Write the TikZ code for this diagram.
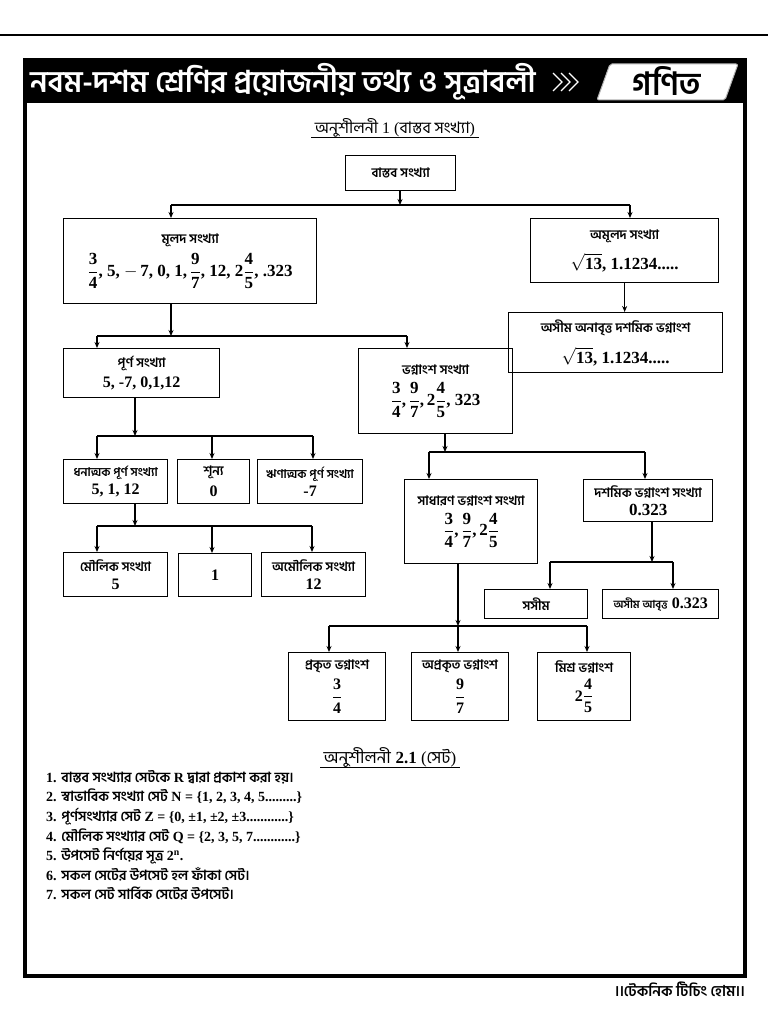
\documentclass[tikz,border=0pt]{standalone}
\usepackage{amsmath}
\usepackage{fontspec}
\setmainfont{Liberation Serif}
\newfontfamily\bn[Script=Bengali]{Hind Siliguri}
\newcommand\B[1]{{\bn #1}}
\newcommand\T[2][13]{{\bn\bfseries\fontsize{#1}{#1}\selectfont #2}}
\newcommand\fr[2]{$\dfrac{\textbf{#1}}{\textbf{#2}}$}
\usetikzlibrary{arrows.meta}
\begin{document}
\begin{tikzpicture}[x=1pt,y=-1pt,
	box/.style 2 args={draw,line width=1.3pt,anchor=north west,minimum width=#1pt,minimum height=#2pt,align=center,inner sep=1pt,font=\bfseries\fontsize{16}{17}\selectfont},
	big/.style={font=\bfseries\fontsize{17}{18}\selectfont},
	arr/.style={line width=1.1pt,-{Stealth[length=6pt,width=5pt]}},
	bar/.style={line width=1.1pt}]
	\useasboundingbox (0,0) rectangle (768,1024);
	% page rule, frame and header band
	\draw[line width=1.6pt] (0,35) -- (768,35);
	\fill (25,60) rectangle (745,103);
	\draw[line width=3.5pt] (25,60) rectangle (745,976);
	\node[white,anchor=west,inner sep=0pt,font=\bn\bfseries\fontsize{30}{32}\selectfont] (title) at (30,82) {নবম-দশম শ্রেণির প্রয়োজনীয় তথ্য ও সূত্রাবলী};
	\foreach \c in {0,8,16}
		\draw[white,line width=1.2pt] (553+\c,73) -- ++(9,9) -- ++(-9,9);
	\draw[fill=white,draw=gray!60,line width=1pt,rounded corners=2pt] (597,100) -- (610,64) -- (738,64) -- (725,100) -- cycle;
	\node[font=\bn\bfseries\fontsize{32}{34}\selectfont] (subj) at (667,81) {গণিত};
	% section 1
	\node[font=\fontsize{16}{18}\selectfont] (sec1) at (395,128) {\B{অনুশীলনী} 1 (\B{বাস্তব সংখ্যা})};
	\draw[line width=.8pt] ([yshift=3pt]sec1.south west) -- ([yshift=3pt]sec1.south east);
	\node[box={110}{35}] (real) at (345,155) {\T{বাস্তব সংখ্যা}};
	\node[box={253}{85},big] (rat) at (63,218) {\T{মূলদ সংখ্যা}\\[6pt] \fr34, 5, $-$\,7, 0, 1,\,\fr97, 12, 2\fr45, .323};
	\node[box={188}{64},big] (irr) at (530,218) {\T{অমূলদ সংখ্যা}\\[10pt] $\sqrt{\textbf{13}}$, 1.1234.....};
	\node[box={214}{60},big] (inf) at (508,312) {\T{অসীম অনাবৃত্ত দশমিক ভগ্নাংশ}\\[11pt] $\sqrt{\textbf{13}}$, 1.1234.....};
	\node[box={156}{49}] (whole) at (63,348) {\T{পূর্ণ সংখ্যা}\\[3pt] 5, -7, 0,1,12};
	\node[box={154}{85},big] (frac) at (358,348) {\T{ভগ্নাংশ সংখ্যা}\\[6pt] \fr34,\,\fr97,\,2\fr45, 323};
	\node[box={104}{44}] (pos) at (63,459) {\T[12]{ধনাত্মক পূর্ণ সংখ্যা}\\[1pt] 5, 1, 12};
	\node[box={72}{44}] (zero) at (177,459) {\T{শূন্য}\\[4pt] 0};
	\node[box={105}{44}] (neg) at (257,459) {\T[12]{ঋণাত্মক পূর্ণ সংখ্যা}\\[1pt] -7};
	\node[box={104}{44}] (prime) at (63,552) {\T{মৌলিক সংখ্যা}\\[1pt] 5};
	\node[box={73}{43}] (one) at (178,553) {1};
	\node[box={104}{44}] (comp) at (261,552) {\T{অমৌলিক সংখ্যা}\\[1pt] 12};
	\node[box={133}{84},big] (comm) at (404,479) {\T{সাধারণ ভগ্নাংশ সংখ্যা}\\[6pt] \fr34,\,\fr97,\,2\fr45};
	\node[box={129}{42},big] (dec) at (583,479) {\T{দশমিক ভগ্নাংশ সংখ্যা}\\ 0.323};
	\node[box={103}{29}] (fin) at (484,589) {\T{সসীম}};
	\node[box={116}{29}] (rec) at (602,589) {\T[11]{অসীম আবৃত্ত} 0.323};
	\node[box={97}{68}] (prop) at (288,652) {\T{প্রকৃত ভগ্নাংশ}\\[5pt] \fr34};
	\node[box={97}{68}] (impr) at (411,652) {\T{অপ্রকৃত ভগ্নাংশ}\\[5pt] \fr97};
	\node[box={93}{68}] (mixd) at (537,652) {\T{মিশ্র ভগ্নাংশ}\\[5pt] 2\fr45};
	% junctions and bars
	\path (400,205) coordinate (j1) (171,205) coordinate (b1l) (630,205) coordinate (b1r)
	(171,336) coordinate (j2) (97,336) coordinate (b2l) (407,336) coordinate (b2r)
	(135,436) coordinate (j3) (97,436) coordinate (b3l) (212,436) coordinate (b3m) (313,436) coordinate (b3r)
	(135,526) coordinate (j4) (97,526) coordinate (b4l) (212,526) coordinate (b4m) (312,526) coordinate (b4r)
	(445,452) coordinate (j5) (429,452) coordinate (b5l) (645,452) coordinate (b5r)
	(652,562) coordinate (j6) (550,562) coordinate (b6l) (673,562) coordinate (b6r)
	(458,626) coordinate (j7) (329,626) coordinate (b7l) (587,626) coordinate (b7r);
	\foreach \j/\n in {j1/real,j2/rat,j3/whole,j4/pos,j5/frac,j6/dec,j7/comm}
		\draw[arr] (\j |- \n.south) -- (\j);
	\foreach \a/\b in {b1l/b1r,b2l/b2r,b3l/b3r,b4l/b4r,b5l/b5r,b6l/b6r,b7l/b7r}
		\draw[bar] (\a) -- (\b);
	\foreach \c/\n in {b1l/rat,b1r/irr,b2l/whole,b2r/frac,b3l/pos,b3m/zero,b3r/neg,b4l/prime,b4m/one,b4r/comp,b5l/comm,b5r/dec,b6l/fin,b6r/rec,b7l/prop,j7/impr,b7r/mixd}
		\draw[arr] (\c) -- (\c |- \n.north);
	\draw[arr] (irr.south) -- (irr.south |- inf.north);
	% section 2
	\node[font=\fontsize{17}{19}\selectfont] (sec2) at (390,757) {\B{অনুশীলনী} \textbf{2.1} (\B{সেট})};
	\draw[line width=.9pt] ([yshift=3pt]sec2.south west) -- ([yshift=3pt]sec2.south east);
	\node[anchor=north west,align=left,inner sep=0pt,font=\bfseries\fontsize{14}{19.6}\selectfont] (list) at (46,770) {%
		1. \B{বাস্তব সংখ্যার সেটকে} R \B{দ্বারা প্রকাশ করা হয়।}\\
		2. \B{স্বাভাবিক সংখ্যা সেট} N = \{1, 2, 3, 4, 5.........\}\\
		3. \B{পূর্ণসংখ্যার সেট} Z = \{0, ±1, ±2, ±3............\}\\
		4. \B{মৌলিক সংখ্যার সেট} Q = \{2, 3, 5, 7............\}\\
		5. \B{উপসেট নির্ণয়ের সূত্র} 2\textsuperscript{n}.\\
		6. \B{সকল সেটের উপসেট হল ফাঁকা সেট।}\\
		7. \B{সকল সেট সার্বিক সেটের উপসেট।}};
	\node[anchor=east,inner sep=0pt,font=\bn\bfseries\fontsize{15}{17}\selectfont] (foot) at (745,989) {।।টেকনিক টিচিং হোম।।};
\end{tikzpicture}
\end{document}
